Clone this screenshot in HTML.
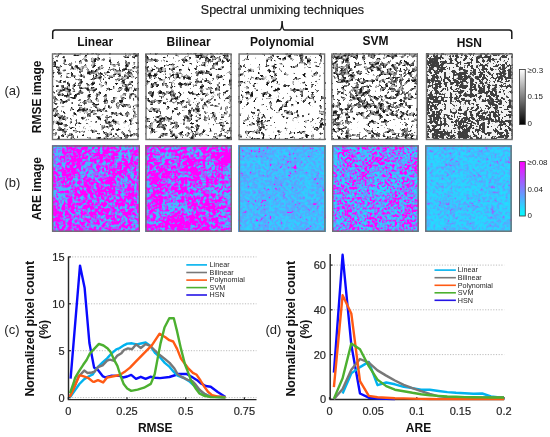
<!DOCTYPE html>
<html><head><meta charset="utf-8"><title>Spectral unmixing techniques</title>
<style>
html,body{margin:0;padding:0;background:#fff;}
body{width:550px;height:437px;overflow:hidden;}
svg{display:block;}
text{font-family:"Liberation Sans", Arial, Helvetica, sans-serif;}
</style></head><body>
<svg width="550" height="437" viewBox="0 0 550 437">
<defs>
<linearGradient id="gGray" x1="0" y1="0" x2="0" y2="1">
<stop offset="0" stop-color="#ffffff"/><stop offset="1" stop-color="#000000"/>
</linearGradient>
<linearGradient id="gCool" x1="0" y1="0" x2="0" y2="1">
<stop offset="0" stop-color="#ff00ff"/><stop offset="1" stop-color="#00ffff"/>
</linearGradient>
<filter id="r0" x="0" y="0" width="100%" height="100%" color-interpolation-filters="sRGB"><feTurbulence type="fractalNoise" baseFrequency="0.24" numOctaves="2" seed="11" result="ah0"/><feColorMatrix in="ah0" type="matrix" values="1 0 0 0 0  1 0 0 0 0  1 0 0 0 0  0 0 0 0 1" result="ah"/><feTurbulence type="fractalNoise" baseFrequency="0.06" numOctaves="2" seed="3" result="al0"/><feColorMatrix in="al0" type="matrix" values="1 0 0 0 0  1 0 0 0 0  1 0 0 0 0  0 0 0 0 1" result="al"/><feComposite in="ah" in2="al" operator="arithmetic" k1="0" k2="0.7" k3="0.3" k4="0" result="araw"/><feComponentTransfer in="araw" result="m"><feFuncR type="table" tableValues="1.000 1.000 1.000 1.000 1.000 1.000 1.000 1.000 1.000 1.000 1.000 1.000 1.000 1.000 1.000 1.000 1.000 1.000 1.000 1.000 1.000 1.000 1.000 1.000 1.000 1.000 1.000 1.000 1.000 1.000 1.000 1.000 1.000 1.000 1.000 1.000 1.000 1.000 1.000 1.000 1.000 1.000 1.000 1.000 1.000 1.000 0.740 0.230 0.000 0.000 0.000 0.000 0.000 0.000 0.000 0.000 0.000 0.000 0.000 0.000 0.000 0.000 0.000 0.000 0.000 0.000 0.000 0.000 0.000 0.000 0.000 0.000 0.000 0.000 0.000 0.000 0.000 0.000 0.000 0.000 0.000 0.000 0.000 0.000 0.000 0.000 0.000 0.000 0.000 0.000 0.000 0.000 0.000 0.000 0.000 0.000 0.000 0.000 0.000 0.000 0.000"/><feFuncG type="table" tableValues="1.000 1.000 1.000 1.000 1.000 1.000 1.000 1.000 1.000 1.000 1.000 1.000 1.000 1.000 1.000 1.000 1.000 1.000 1.000 1.000 1.000 1.000 1.000 1.000 1.000 1.000 1.000 1.000 1.000 1.000 1.000 1.000 1.000 1.000 1.000 1.000 1.000 1.000 1.000 1.000 1.000 1.000 1.000 1.000 1.000 1.000 0.740 0.230 0.000 0.000 0.000 0.000 0.000 0.000 0.000 0.000 0.000 0.000 0.000 0.000 0.000 0.000 0.000 0.000 0.000 0.000 0.000 0.000 0.000 0.000 0.000 0.000 0.000 0.000 0.000 0.000 0.000 0.000 0.000 0.000 0.000 0.000 0.000 0.000 0.000 0.000 0.000 0.000 0.000 0.000 0.000 0.000 0.000 0.000 0.000 0.000 0.000 0.000 0.000 0.000 0.000"/><feFuncB type="table" tableValues="1.000 1.000 1.000 1.000 1.000 1.000 1.000 1.000 1.000 1.000 1.000 1.000 1.000 1.000 1.000 1.000 1.000 1.000 1.000 1.000 1.000 1.000 1.000 1.000 1.000 1.000 1.000 1.000 1.000 1.000 1.000 1.000 1.000 1.000 1.000 1.000 1.000 1.000 1.000 1.000 1.000 1.000 1.000 1.000 1.000 1.000 0.740 0.230 0.000 0.000 0.000 0.000 0.000 0.000 0.000 0.000 0.000 0.000 0.000 0.000 0.000 0.000 0.000 0.000 0.000 0.000 0.000 0.000 0.000 0.000 0.000 0.000 0.000 0.000 0.000 0.000 0.000 0.000 0.000 0.000 0.000 0.000 0.000 0.000 0.000 0.000 0.000 0.000 0.000 0.000 0.000 0.000 0.000 0.000 0.000 0.000 0.000 0.000 0.000 0.000 0.000"/></feComponentTransfer><feTurbulence type="fractalNoise" baseFrequency="0.35" numOctaves="2" seed="5" result="bh0"/><feColorMatrix in="bh0" type="matrix" values="1 0 0 0 0  1 0 0 0 0  1 0 0 0 0  0 0 0 0 1" result="bh"/><feColorMatrix in="bh" type="matrix" values="1 0 0 0 0  0 1 0 0 0  0 0 1 0 0  0 0 0 0 1" result="braw"/><feComponentTransfer in="braw" result="d"><feFuncR type="table" tableValues="0.100 0.100 0.100 0.100 0.100 0.100 0.100 0.100 0.100 0.100 0.100 0.100 0.100 0.100 0.100 0.100 0.100 0.100 0.100 0.100 0.100 0.100 0.100 0.100 0.100 0.100 0.100 0.100 0.100 0.100 0.100 0.100 0.100 0.100 0.100 0.113 0.135 0.157 0.179 0.202 0.224 0.246 0.268 0.291 0.313 0.335 0.357 0.380 0.402 0.424 0.447 0.469 0.491 0.513 0.536 0.558 0.580 0.602 0.625 0.647 0.669 0.691 0.714 0.736 0.758 0.780 0.800 0.800 0.800 0.800 0.800 0.800 0.800 0.800 0.800 0.800 0.800 0.800 0.800 0.800 0.800 0.800 0.800 0.800 0.800 0.800 0.800 0.800 0.800 0.800 0.800 0.800 0.800 0.800 0.800 0.800 0.800 0.800 0.800 0.800 0.800"/><feFuncG type="table" tableValues="0.100 0.100 0.100 0.100 0.100 0.100 0.100 0.100 0.100 0.100 0.100 0.100 0.100 0.100 0.100 0.100 0.100 0.100 0.100 0.100 0.100 0.100 0.100 0.100 0.100 0.100 0.100 0.100 0.100 0.100 0.100 0.100 0.100 0.100 0.100 0.113 0.135 0.157 0.179 0.202 0.224 0.246 0.268 0.291 0.313 0.335 0.357 0.380 0.402 0.424 0.447 0.469 0.491 0.513 0.536 0.558 0.580 0.602 0.625 0.647 0.669 0.691 0.714 0.736 0.758 0.780 0.800 0.800 0.800 0.800 0.800 0.800 0.800 0.800 0.800 0.800 0.800 0.800 0.800 0.800 0.800 0.800 0.800 0.800 0.800 0.800 0.800 0.800 0.800 0.800 0.800 0.800 0.800 0.800 0.800 0.800 0.800 0.800 0.800 0.800 0.800"/><feFuncB type="table" tableValues="0.100 0.100 0.100 0.100 0.100 0.100 0.100 0.100 0.100 0.100 0.100 0.100 0.100 0.100 0.100 0.100 0.100 0.100 0.100 0.100 0.100 0.100 0.100 0.100 0.100 0.100 0.100 0.100 0.100 0.100 0.100 0.100 0.100 0.100 0.100 0.113 0.135 0.157 0.179 0.202 0.224 0.246 0.268 0.291 0.313 0.335 0.357 0.380 0.402 0.424 0.447 0.469 0.491 0.513 0.536 0.558 0.580 0.602 0.625 0.647 0.669 0.691 0.714 0.736 0.758 0.780 0.800 0.800 0.800 0.800 0.800 0.800 0.800 0.800 0.800 0.800 0.800 0.800 0.800 0.800 0.800 0.800 0.800 0.800 0.800 0.800 0.800 0.800 0.800 0.800 0.800 0.800 0.800 0.800 0.800 0.800 0.800 0.800 0.800 0.800 0.800"/></feComponentTransfer><feComposite in="m" in2="d" operator="arithmetic" k1="1" k2="-1" k3="0" k4="1"/></filter>
<filter id="r1" x="0" y="0" width="100%" height="100%" color-interpolation-filters="sRGB"><feTurbulence type="fractalNoise" baseFrequency="0.24" numOctaves="2" seed="11" result="ah0"/><feColorMatrix in="ah0" type="matrix" values="1 0 0 0 0  1 0 0 0 0  1 0 0 0 0  0 0 0 0 1" result="ah"/><feTurbulence type="fractalNoise" baseFrequency="0.06" numOctaves="2" seed="3" result="al0"/><feColorMatrix in="al0" type="matrix" values="1 0 0 0 0  1 0 0 0 0  1 0 0 0 0  0 0 0 0 1" result="al"/><feComposite in="ah" in2="al" operator="arithmetic" k1="0" k2="0.7" k3="0.3" k4="0" result="araw"/><feComponentTransfer in="araw" result="m"><feFuncR type="table" tableValues="1.000 1.000 1.000 1.000 1.000 1.000 1.000 1.000 1.000 1.000 1.000 1.000 1.000 1.000 1.000 1.000 1.000 1.000 1.000 1.000 1.000 1.000 1.000 1.000 1.000 1.000 1.000 1.000 1.000 1.000 1.000 1.000 1.000 1.000 1.000 1.000 1.000 1.000 1.000 1.000 1.000 1.000 1.000 1.000 1.000 1.000 0.925 0.288 0.000 0.000 0.000 0.000 0.000 0.000 0.000 0.000 0.000 0.000 0.000 0.000 0.000 0.000 0.000 0.000 0.000 0.000 0.000 0.000 0.000 0.000 0.000 0.000 0.000 0.000 0.000 0.000 0.000 0.000 0.000 0.000 0.000 0.000 0.000 0.000 0.000 0.000 0.000 0.000 0.000 0.000 0.000 0.000 0.000 0.000 0.000 0.000 0.000 0.000 0.000 0.000 0.000"/><feFuncG type="table" tableValues="1.000 1.000 1.000 1.000 1.000 1.000 1.000 1.000 1.000 1.000 1.000 1.000 1.000 1.000 1.000 1.000 1.000 1.000 1.000 1.000 1.000 1.000 1.000 1.000 1.000 1.000 1.000 1.000 1.000 1.000 1.000 1.000 1.000 1.000 1.000 1.000 1.000 1.000 1.000 1.000 1.000 1.000 1.000 1.000 1.000 1.000 0.925 0.288 0.000 0.000 0.000 0.000 0.000 0.000 0.000 0.000 0.000 0.000 0.000 0.000 0.000 0.000 0.000 0.000 0.000 0.000 0.000 0.000 0.000 0.000 0.000 0.000 0.000 0.000 0.000 0.000 0.000 0.000 0.000 0.000 0.000 0.000 0.000 0.000 0.000 0.000 0.000 0.000 0.000 0.000 0.000 0.000 0.000 0.000 0.000 0.000 0.000 0.000 0.000 0.000 0.000"/><feFuncB type="table" tableValues="1.000 1.000 1.000 1.000 1.000 1.000 1.000 1.000 1.000 1.000 1.000 1.000 1.000 1.000 1.000 1.000 1.000 1.000 1.000 1.000 1.000 1.000 1.000 1.000 1.000 1.000 1.000 1.000 1.000 1.000 1.000 1.000 1.000 1.000 1.000 1.000 1.000 1.000 1.000 1.000 1.000 1.000 1.000 1.000 1.000 1.000 0.925 0.288 0.000 0.000 0.000 0.000 0.000 0.000 0.000 0.000 0.000 0.000 0.000 0.000 0.000 0.000 0.000 0.000 0.000 0.000 0.000 0.000 0.000 0.000 0.000 0.000 0.000 0.000 0.000 0.000 0.000 0.000 0.000 0.000 0.000 0.000 0.000 0.000 0.000 0.000 0.000 0.000 0.000 0.000 0.000 0.000 0.000 0.000 0.000 0.000 0.000 0.000 0.000 0.000 0.000"/></feComponentTransfer><feTurbulence type="fractalNoise" baseFrequency="0.35" numOctaves="2" seed="5" result="bh0"/><feColorMatrix in="bh0" type="matrix" values="1 0 0 0 0  1 0 0 0 0  1 0 0 0 0  0 0 0 0 1" result="bh"/><feColorMatrix in="bh" type="matrix" values="1 0 0 0 0  0 1 0 0 0  0 0 1 0 0  0 0 0 0 1" result="braw"/><feComponentTransfer in="braw" result="d"><feFuncR type="table" tableValues="0.100 0.100 0.100 0.100 0.100 0.100 0.100 0.100 0.100 0.100 0.100 0.100 0.100 0.100 0.100 0.100 0.100 0.100 0.100 0.100 0.100 0.100 0.100 0.100 0.100 0.100 0.100 0.100 0.100 0.100 0.100 0.100 0.100 0.100 0.100 0.113 0.135 0.157 0.179 0.202 0.224 0.246 0.268 0.291 0.313 0.335 0.357 0.380 0.402 0.424 0.447 0.469 0.491 0.513 0.536 0.558 0.580 0.602 0.625 0.647 0.669 0.691 0.714 0.736 0.758 0.780 0.800 0.800 0.800 0.800 0.800 0.800 0.800 0.800 0.800 0.800 0.800 0.800 0.800 0.800 0.800 0.800 0.800 0.800 0.800 0.800 0.800 0.800 0.800 0.800 0.800 0.800 0.800 0.800 0.800 0.800 0.800 0.800 0.800 0.800 0.800"/><feFuncG type="table" tableValues="0.100 0.100 0.100 0.100 0.100 0.100 0.100 0.100 0.100 0.100 0.100 0.100 0.100 0.100 0.100 0.100 0.100 0.100 0.100 0.100 0.100 0.100 0.100 0.100 0.100 0.100 0.100 0.100 0.100 0.100 0.100 0.100 0.100 0.100 0.100 0.113 0.135 0.157 0.179 0.202 0.224 0.246 0.268 0.291 0.313 0.335 0.357 0.380 0.402 0.424 0.447 0.469 0.491 0.513 0.536 0.558 0.580 0.602 0.625 0.647 0.669 0.691 0.714 0.736 0.758 0.780 0.800 0.800 0.800 0.800 0.800 0.800 0.800 0.800 0.800 0.800 0.800 0.800 0.800 0.800 0.800 0.800 0.800 0.800 0.800 0.800 0.800 0.800 0.800 0.800 0.800 0.800 0.800 0.800 0.800 0.800 0.800 0.800 0.800 0.800 0.800"/><feFuncB type="table" tableValues="0.100 0.100 0.100 0.100 0.100 0.100 0.100 0.100 0.100 0.100 0.100 0.100 0.100 0.100 0.100 0.100 0.100 0.100 0.100 0.100 0.100 0.100 0.100 0.100 0.100 0.100 0.100 0.100 0.100 0.100 0.100 0.100 0.100 0.100 0.100 0.113 0.135 0.157 0.179 0.202 0.224 0.246 0.268 0.291 0.313 0.335 0.357 0.380 0.402 0.424 0.447 0.469 0.491 0.513 0.536 0.558 0.580 0.602 0.625 0.647 0.669 0.691 0.714 0.736 0.758 0.780 0.800 0.800 0.800 0.800 0.800 0.800 0.800 0.800 0.800 0.800 0.800 0.800 0.800 0.800 0.800 0.800 0.800 0.800 0.800 0.800 0.800 0.800 0.800 0.800 0.800 0.800 0.800 0.800 0.800 0.800 0.800 0.800 0.800 0.800 0.800"/></feComponentTransfer><feComposite in="m" in2="d" operator="arithmetic" k1="1" k2="-1" k3="0" k4="1"/></filter>
<filter id="r2" x="0" y="0" width="100%" height="100%" color-interpolation-filters="sRGB"><feTurbulence type="fractalNoise" baseFrequency="0.26" numOctaves="2" seed="11" result="ah0"/><feColorMatrix in="ah0" type="matrix" values="1 0 0 0 0  1 0 0 0 0  1 0 0 0 0  0 0 0 0 1" result="ah"/><feTurbulence type="fractalNoise" baseFrequency="0.06" numOctaves="2" seed="3" result="al0"/><feColorMatrix in="al0" type="matrix" values="1 0 0 0 0  1 0 0 0 0  1 0 0 0 0  0 0 0 0 1" result="al"/><feComposite in="ah" in2="al" operator="arithmetic" k1="0" k2="0.7" k3="0.3" k4="0" result="araw"/><feComponentTransfer in="araw" result="m"><feFuncR type="table" tableValues="1.000 1.000 1.000 1.000 1.000 1.000 1.000 1.000 1.000 1.000 1.000 1.000 1.000 1.000 1.000 1.000 1.000 1.000 1.000 1.000 1.000 1.000 1.000 1.000 1.000 1.000 1.000 1.000 1.000 1.000 1.000 1.000 1.000 1.000 1.000 1.000 1.000 1.000 1.000 1.000 1.000 1.000 0.650 0.225 0.000 0.000 0.000 0.000 0.000 0.000 0.000 0.000 0.000 0.000 0.000 0.000 0.000 0.000 0.000 0.000 0.000 0.000 0.000 0.000 0.000 0.000 0.000 0.000 0.000 0.000 0.000 0.000 0.000 0.000 0.000 0.000 0.000 0.000 0.000 0.000 0.000 0.000 0.000 0.000 0.000 0.000 0.000 0.000 0.000 0.000 0.000 0.000 0.000 0.000 0.000 0.000 0.000 0.000 0.000 0.000 0.000"/><feFuncG type="table" tableValues="1.000 1.000 1.000 1.000 1.000 1.000 1.000 1.000 1.000 1.000 1.000 1.000 1.000 1.000 1.000 1.000 1.000 1.000 1.000 1.000 1.000 1.000 1.000 1.000 1.000 1.000 1.000 1.000 1.000 1.000 1.000 1.000 1.000 1.000 1.000 1.000 1.000 1.000 1.000 1.000 1.000 1.000 0.650 0.225 0.000 0.000 0.000 0.000 0.000 0.000 0.000 0.000 0.000 0.000 0.000 0.000 0.000 0.000 0.000 0.000 0.000 0.000 0.000 0.000 0.000 0.000 0.000 0.000 0.000 0.000 0.000 0.000 0.000 0.000 0.000 0.000 0.000 0.000 0.000 0.000 0.000 0.000 0.000 0.000 0.000 0.000 0.000 0.000 0.000 0.000 0.000 0.000 0.000 0.000 0.000 0.000 0.000 0.000 0.000 0.000 0.000"/><feFuncB type="table" tableValues="1.000 1.000 1.000 1.000 1.000 1.000 1.000 1.000 1.000 1.000 1.000 1.000 1.000 1.000 1.000 1.000 1.000 1.000 1.000 1.000 1.000 1.000 1.000 1.000 1.000 1.000 1.000 1.000 1.000 1.000 1.000 1.000 1.000 1.000 1.000 1.000 1.000 1.000 1.000 1.000 1.000 1.000 0.650 0.225 0.000 0.000 0.000 0.000 0.000 0.000 0.000 0.000 0.000 0.000 0.000 0.000 0.000 0.000 0.000 0.000 0.000 0.000 0.000 0.000 0.000 0.000 0.000 0.000 0.000 0.000 0.000 0.000 0.000 0.000 0.000 0.000 0.000 0.000 0.000 0.000 0.000 0.000 0.000 0.000 0.000 0.000 0.000 0.000 0.000 0.000 0.000 0.000 0.000 0.000 0.000 0.000 0.000 0.000 0.000 0.000 0.000"/></feComponentTransfer><feTurbulence type="fractalNoise" baseFrequency="0.35" numOctaves="2" seed="5" result="bh0"/><feColorMatrix in="bh0" type="matrix" values="1 0 0 0 0  1 0 0 0 0  1 0 0 0 0  0 0 0 0 1" result="bh"/><feColorMatrix in="bh" type="matrix" values="1 0 0 0 0  0 1 0 0 0  0 0 1 0 0  0 0 0 0 1" result="braw"/><feComponentTransfer in="braw" result="d"><feFuncR type="table" tableValues="0.080 0.080 0.080 0.080 0.080 0.080 0.080 0.080 0.080 0.080 0.080 0.080 0.080 0.080 0.080 0.080 0.080 0.080 0.080 0.080 0.080 0.080 0.080 0.080 0.080 0.080 0.080 0.080 0.080 0.080 0.080 0.080 0.080 0.080 0.080 0.093 0.116 0.139 0.162 0.185 0.207 0.230 0.253 0.276 0.299 0.322 0.345 0.368 0.391 0.414 0.436 0.459 0.482 0.505 0.528 0.551 0.574 0.597 0.620 0.642 0.665 0.688 0.711 0.734 0.757 0.780 0.800 0.800 0.800 0.800 0.800 0.800 0.800 0.800 0.800 0.800 0.800 0.800 0.800 0.800 0.800 0.800 0.800 0.800 0.800 0.800 0.800 0.800 0.800 0.800 0.800 0.800 0.800 0.800 0.800 0.800 0.800 0.800 0.800 0.800 0.800"/><feFuncG type="table" tableValues="0.080 0.080 0.080 0.080 0.080 0.080 0.080 0.080 0.080 0.080 0.080 0.080 0.080 0.080 0.080 0.080 0.080 0.080 0.080 0.080 0.080 0.080 0.080 0.080 0.080 0.080 0.080 0.080 0.080 0.080 0.080 0.080 0.080 0.080 0.080 0.093 0.116 0.139 0.162 0.185 0.207 0.230 0.253 0.276 0.299 0.322 0.345 0.368 0.391 0.414 0.436 0.459 0.482 0.505 0.528 0.551 0.574 0.597 0.620 0.642 0.665 0.688 0.711 0.734 0.757 0.780 0.800 0.800 0.800 0.800 0.800 0.800 0.800 0.800 0.800 0.800 0.800 0.800 0.800 0.800 0.800 0.800 0.800 0.800 0.800 0.800 0.800 0.800 0.800 0.800 0.800 0.800 0.800 0.800 0.800 0.800 0.800 0.800 0.800 0.800 0.800"/><feFuncB type="table" tableValues="0.080 0.080 0.080 0.080 0.080 0.080 0.080 0.080 0.080 0.080 0.080 0.080 0.080 0.080 0.080 0.080 0.080 0.080 0.080 0.080 0.080 0.080 0.080 0.080 0.080 0.080 0.080 0.080 0.080 0.080 0.080 0.080 0.080 0.080 0.080 0.093 0.116 0.139 0.162 0.185 0.207 0.230 0.253 0.276 0.299 0.322 0.345 0.368 0.391 0.414 0.436 0.459 0.482 0.505 0.528 0.551 0.574 0.597 0.620 0.642 0.665 0.688 0.711 0.734 0.757 0.780 0.800 0.800 0.800 0.800 0.800 0.800 0.800 0.800 0.800 0.800 0.800 0.800 0.800 0.800 0.800 0.800 0.800 0.800 0.800 0.800 0.800 0.800 0.800 0.800 0.800 0.800 0.800 0.800 0.800 0.800 0.800 0.800 0.800 0.800 0.800"/></feComponentTransfer><feComposite in="m" in2="d" operator="arithmetic" k1="1" k2="-1" k3="0" k4="1"/></filter>
<filter id="r3" x="0" y="0" width="100%" height="100%" color-interpolation-filters="sRGB"><feTurbulence type="fractalNoise" baseFrequency="0.24" numOctaves="2" seed="11" result="ah0"/><feColorMatrix in="ah0" type="matrix" values="1 0 0 0 0  1 0 0 0 0  1 0 0 0 0  0 0 0 0 1" result="ah"/><feTurbulence type="fractalNoise" baseFrequency="0.06" numOctaves="2" seed="3" result="al0"/><feColorMatrix in="al0" type="matrix" values="1 0 0 0 0  1 0 0 0 0  1 0 0 0 0  0 0 0 0 1" result="al"/><feComposite in="ah" in2="al" operator="arithmetic" k1="0" k2="0.7" k3="0.3" k4="0" result="araw"/><feComponentTransfer in="araw" result="m"><feFuncR type="table" tableValues="1.000 1.000 1.000 1.000 1.000 1.000 1.000 1.000 1.000 1.000 1.000 1.000 1.000 1.000 1.000 1.000 1.000 1.000 1.000 1.000 1.000 1.000 1.000 1.000 1.000 1.000 1.000 1.000 1.000 1.000 1.000 1.000 1.000 1.000 1.000 1.000 1.000 1.000 1.000 1.000 1.000 1.000 1.000 1.000 1.000 1.000 1.000 1.000 0.900 0.263 0.000 0.000 0.000 0.000 0.000 0.000 0.000 0.000 0.000 0.000 0.000 0.000 0.000 0.000 0.000 0.000 0.000 0.000 0.000 0.000 0.000 0.000 0.000 0.000 0.000 0.000 0.000 0.000 0.000 0.000 0.000 0.000 0.000 0.000 0.000 0.000 0.000 0.000 0.000 0.000 0.000 0.000 0.000 0.000 0.000 0.000 0.000 0.000 0.000 0.000 0.000"/><feFuncG type="table" tableValues="1.000 1.000 1.000 1.000 1.000 1.000 1.000 1.000 1.000 1.000 1.000 1.000 1.000 1.000 1.000 1.000 1.000 1.000 1.000 1.000 1.000 1.000 1.000 1.000 1.000 1.000 1.000 1.000 1.000 1.000 1.000 1.000 1.000 1.000 1.000 1.000 1.000 1.000 1.000 1.000 1.000 1.000 1.000 1.000 1.000 1.000 1.000 1.000 0.900 0.263 0.000 0.000 0.000 0.000 0.000 0.000 0.000 0.000 0.000 0.000 0.000 0.000 0.000 0.000 0.000 0.000 0.000 0.000 0.000 0.000 0.000 0.000 0.000 0.000 0.000 0.000 0.000 0.000 0.000 0.000 0.000 0.000 0.000 0.000 0.000 0.000 0.000 0.000 0.000 0.000 0.000 0.000 0.000 0.000 0.000 0.000 0.000 0.000 0.000 0.000 0.000"/><feFuncB type="table" tableValues="1.000 1.000 1.000 1.000 1.000 1.000 1.000 1.000 1.000 1.000 1.000 1.000 1.000 1.000 1.000 1.000 1.000 1.000 1.000 1.000 1.000 1.000 1.000 1.000 1.000 1.000 1.000 1.000 1.000 1.000 1.000 1.000 1.000 1.000 1.000 1.000 1.000 1.000 1.000 1.000 1.000 1.000 1.000 1.000 1.000 1.000 1.000 1.000 0.900 0.263 0.000 0.000 0.000 0.000 0.000 0.000 0.000 0.000 0.000 0.000 0.000 0.000 0.000 0.000 0.000 0.000 0.000 0.000 0.000 0.000 0.000 0.000 0.000 0.000 0.000 0.000 0.000 0.000 0.000 0.000 0.000 0.000 0.000 0.000 0.000 0.000 0.000 0.000 0.000 0.000 0.000 0.000 0.000 0.000 0.000 0.000 0.000 0.000 0.000 0.000 0.000"/></feComponentTransfer><feTurbulence type="fractalNoise" baseFrequency="0.35" numOctaves="2" seed="5" result="bh0"/><feColorMatrix in="bh0" type="matrix" values="1 0 0 0 0  1 0 0 0 0  1 0 0 0 0  0 0 0 0 1" result="bh"/><feColorMatrix in="bh" type="matrix" values="1 0 0 0 0  0 1 0 0 0  0 0 1 0 0  0 0 0 0 1" result="braw"/><feComponentTransfer in="braw" result="d"><feFuncR type="table" tableValues="0.100 0.100 0.100 0.100 0.100 0.100 0.100 0.100 0.100 0.100 0.100 0.100 0.100 0.100 0.100 0.100 0.100 0.100 0.100 0.100 0.100 0.100 0.100 0.100 0.100 0.100 0.100 0.100 0.100 0.100 0.100 0.100 0.100 0.100 0.100 0.112 0.132 0.153 0.174 0.194 0.215 0.236 0.256 0.277 0.298 0.318 0.339 0.360 0.380 0.401 0.422 0.442 0.463 0.484 0.504 0.525 0.546 0.566 0.587 0.608 0.628 0.649 0.670 0.690 0.711 0.732 0.750 0.750 0.750 0.750 0.750 0.750 0.750 0.750 0.750 0.750 0.750 0.750 0.750 0.750 0.750 0.750 0.750 0.750 0.750 0.750 0.750 0.750 0.750 0.750 0.750 0.750 0.750 0.750 0.750 0.750 0.750 0.750 0.750 0.750 0.750"/><feFuncG type="table" tableValues="0.100 0.100 0.100 0.100 0.100 0.100 0.100 0.100 0.100 0.100 0.100 0.100 0.100 0.100 0.100 0.100 0.100 0.100 0.100 0.100 0.100 0.100 0.100 0.100 0.100 0.100 0.100 0.100 0.100 0.100 0.100 0.100 0.100 0.100 0.100 0.112 0.132 0.153 0.174 0.194 0.215 0.236 0.256 0.277 0.298 0.318 0.339 0.360 0.380 0.401 0.422 0.442 0.463 0.484 0.504 0.525 0.546 0.566 0.587 0.608 0.628 0.649 0.670 0.690 0.711 0.732 0.750 0.750 0.750 0.750 0.750 0.750 0.750 0.750 0.750 0.750 0.750 0.750 0.750 0.750 0.750 0.750 0.750 0.750 0.750 0.750 0.750 0.750 0.750 0.750 0.750 0.750 0.750 0.750 0.750 0.750 0.750 0.750 0.750 0.750 0.750"/><feFuncB type="table" tableValues="0.100 0.100 0.100 0.100 0.100 0.100 0.100 0.100 0.100 0.100 0.100 0.100 0.100 0.100 0.100 0.100 0.100 0.100 0.100 0.100 0.100 0.100 0.100 0.100 0.100 0.100 0.100 0.100 0.100 0.100 0.100 0.100 0.100 0.100 0.100 0.112 0.132 0.153 0.174 0.194 0.215 0.236 0.256 0.277 0.298 0.318 0.339 0.360 0.380 0.401 0.422 0.442 0.463 0.484 0.504 0.525 0.546 0.566 0.587 0.608 0.628 0.649 0.670 0.690 0.711 0.732 0.750 0.750 0.750 0.750 0.750 0.750 0.750 0.750 0.750 0.750 0.750 0.750 0.750 0.750 0.750 0.750 0.750 0.750 0.750 0.750 0.750 0.750 0.750 0.750 0.750 0.750 0.750 0.750 0.750 0.750 0.750 0.750 0.750 0.750 0.750"/></feComponentTransfer><feComposite in="m" in2="d" operator="arithmetic" k1="1" k2="-1" k3="0" k4="1"/></filter>
<filter id="r4" x="0" y="0" width="100%" height="100%" color-interpolation-filters="sRGB"><feTurbulence type="fractalNoise" baseFrequency="0.34" numOctaves="2" seed="29" result="ah0"/><feColorMatrix in="ah0" type="matrix" values="1 0 0 0 0  1 0 0 0 0  1 0 0 0 0  0 0 0 0 1" result="ah"/><feTurbulence type="fractalNoise" baseFrequency="0.07" numOctaves="2" seed="8" result="al0"/><feColorMatrix in="al0" type="matrix" values="1 0 0 0 0  1 0 0 0 0  1 0 0 0 0  0 0 0 0 1" result="al"/><feComposite in="ah" in2="al" operator="arithmetic" k1="0" k2="0.7" k3="0.3" k4="0" result="araw"/><feComponentTransfer in="araw" ><feFuncR type="table" tableValues="0.250 0.250 0.250 0.250 0.250 0.250 0.250 0.250 0.250 0.250 0.250 0.250 0.250 0.250 0.250 0.250 0.250 0.250 0.250 0.250 0.250 0.250 0.250 0.250 0.250 0.250 0.250 0.250 0.250 0.250 0.250 0.250 0.250 0.250 0.250 0.250 0.250 0.250 0.250 0.250 0.250 0.250 0.250 0.250 0.250 0.250 0.250 0.250 0.250 0.361 0.690 0.960 0.960 0.960 0.960 0.960 0.960 0.960 0.960 0.960 0.960 0.960 0.960 0.960 0.960 0.960 0.960 0.960 0.960 0.960 0.960 0.960 0.960 0.960 0.960 0.960 0.960 0.960 0.960 0.960 0.960 0.960 0.960 0.960 0.960 0.960 0.960 0.960 0.960 0.960 0.960 0.960 0.960 0.960 0.960 0.960 0.960 0.960 0.960 0.960 0.960"/><feFuncG type="table" tableValues="0.250 0.250 0.250 0.250 0.250 0.250 0.250 0.250 0.250 0.250 0.250 0.250 0.250 0.250 0.250 0.250 0.250 0.250 0.250 0.250 0.250 0.250 0.250 0.250 0.250 0.250 0.250 0.250 0.250 0.250 0.250 0.250 0.250 0.250 0.250 0.250 0.250 0.250 0.250 0.250 0.250 0.250 0.250 0.250 0.250 0.250 0.250 0.250 0.250 0.361 0.690 0.960 0.960 0.960 0.960 0.960 0.960 0.960 0.960 0.960 0.960 0.960 0.960 0.960 0.960 0.960 0.960 0.960 0.960 0.960 0.960 0.960 0.960 0.960 0.960 0.960 0.960 0.960 0.960 0.960 0.960 0.960 0.960 0.960 0.960 0.960 0.960 0.960 0.960 0.960 0.960 0.960 0.960 0.960 0.960 0.960 0.960 0.960 0.960 0.960 0.960"/><feFuncB type="table" tableValues="0.250 0.250 0.250 0.250 0.250 0.250 0.250 0.250 0.250 0.250 0.250 0.250 0.250 0.250 0.250 0.250 0.250 0.250 0.250 0.250 0.250 0.250 0.250 0.250 0.250 0.250 0.250 0.250 0.250 0.250 0.250 0.250 0.250 0.250 0.250 0.250 0.250 0.250 0.250 0.250 0.250 0.250 0.250 0.250 0.250 0.250 0.250 0.250 0.250 0.361 0.690 0.960 0.960 0.960 0.960 0.960 0.960 0.960 0.960 0.960 0.960 0.960 0.960 0.960 0.960 0.960 0.960 0.960 0.960 0.960 0.960 0.960 0.960 0.960 0.960 0.960 0.960 0.960 0.960 0.960 0.960 0.960 0.960 0.960 0.960 0.960 0.960 0.960 0.960 0.960 0.960 0.960 0.960 0.960 0.960 0.960 0.960 0.960 0.960 0.960 0.960"/></feComponentTransfer></filter>
<filter id="e0" x="0" y="0" width="100%" height="100%" color-interpolation-filters="sRGB"><feTurbulence type="fractalNoise" baseFrequency="0.32" numOctaves="2" seed="41" result="ah0"/><feColorMatrix in="ah0" type="matrix" values="1 0 0 0 0  1 0 0 0 0  1 0 0 0 0  0 0 0 0 1" result="ah"/><feTurbulence type="fractalNoise" baseFrequency="0.06" numOctaves="2" seed="9" result="al0"/><feColorMatrix in="al0" type="matrix" values="1 0 0 0 0  1 0 0 0 0  1 0 0 0 0  0 0 0 0 1" result="al"/><feComposite in="ah" in2="al" operator="arithmetic" k1="0" k2="0.65" k3="0.35" k4="0" result="araw"/><feComponentTransfer in="araw"><feFuncR type="table" tableValues="0.280 0.280 0.280 0.280 0.280 0.280 0.280 0.280 0.280 0.280 0.280 0.280 0.280 0.280 0.280 0.280 0.280 0.280 0.280 0.280 0.280 0.280 0.280 0.280 0.280 0.280 0.280 0.280 0.280 0.280 0.280 0.280 0.280 0.280 0.280 0.280 0.280 0.280 0.280 0.280 0.280 0.280 0.280 0.354 0.620 0.620 0.620 0.620 0.620 0.620 0.620 0.620 0.823 1.000 1.000 1.000 1.000 1.000 1.000 1.000 1.000 1.000 1.000 1.000 1.000 1.000 1.000 1.000 1.000 1.000 1.000 1.000 1.000 1.000 1.000 1.000 1.000 1.000 1.000 1.000 1.000 1.000 1.000 1.000 1.000 1.000 1.000 1.000 1.000 1.000 1.000 1.000 1.000 1.000 1.000 1.000 1.000 1.000 1.000 1.000 1.000"/><feFuncG type="table" tableValues="0.720 0.720 0.720 0.720 0.720 0.720 0.720 0.720 0.720 0.720 0.720 0.720 0.720 0.720 0.720 0.720 0.720 0.720 0.720 0.720 0.720 0.720 0.720 0.720 0.720 0.720 0.720 0.720 0.720 0.720 0.720 0.720 0.720 0.720 0.720 0.720 0.720 0.720 0.720 0.720 0.720 0.720 0.720 0.646 0.380 0.380 0.380 0.380 0.380 0.380 0.380 0.380 0.177 0.000 0.000 0.000 0.000 0.000 0.000 0.000 0.000 0.000 0.000 0.000 0.000 0.000 0.000 0.000 0.000 0.000 0.000 0.000 0.000 0.000 0.000 0.000 0.000 0.000 0.000 0.000 0.000 0.000 0.000 0.000 0.000 0.000 0.000 0.000 0.000 0.000 0.000 0.000 0.000 0.000 0.000 0.000 0.000 0.000 0.000 0.000 0.000"/><feFuncB type="linear" slope="0" intercept="1"/></feComponentTransfer></filter>
<filter id="e1" x="0" y="0" width="100%" height="100%" color-interpolation-filters="sRGB"><feTurbulence type="fractalNoise" baseFrequency="0.32" numOctaves="2" seed="42" result="ah0"/><feColorMatrix in="ah0" type="matrix" values="1 0 0 0 0  1 0 0 0 0  1 0 0 0 0  0 0 0 0 1" result="ah"/><feTurbulence type="fractalNoise" baseFrequency="0.06" numOctaves="2" seed="9" result="al0"/><feColorMatrix in="al0" type="matrix" values="1 0 0 0 0  1 0 0 0 0  1 0 0 0 0  0 0 0 0 1" result="al"/><feComposite in="ah" in2="al" operator="arithmetic" k1="0" k2="0.65" k3="0.35" k4="0" result="araw"/><feComponentTransfer in="araw"><feFuncR type="table" tableValues="0.280 0.280 0.280 0.280 0.280 0.280 0.280 0.280 0.280 0.280 0.280 0.280 0.280 0.280 0.280 0.280 0.280 0.280 0.280 0.280 0.280 0.280 0.280 0.280 0.280 0.280 0.280 0.280 0.280 0.280 0.280 0.280 0.280 0.280 0.280 0.280 0.280 0.280 0.280 0.280 0.280 0.280 0.280 0.420 0.620 0.620 0.620 0.620 0.620 0.620 0.620 0.620 0.924 1.000 1.000 1.000 1.000 1.000 1.000 1.000 1.000 1.000 1.000 1.000 1.000 1.000 1.000 1.000 1.000 1.000 1.000 1.000 1.000 1.000 1.000 1.000 1.000 1.000 1.000 1.000 1.000 1.000 1.000 1.000 1.000 1.000 1.000 1.000 1.000 1.000 1.000 1.000 1.000 1.000 1.000 1.000 1.000 1.000 1.000 1.000 1.000"/><feFuncG type="table" tableValues="0.720 0.720 0.720 0.720 0.720 0.720 0.720 0.720 0.720 0.720 0.720 0.720 0.720 0.720 0.720 0.720 0.720 0.720 0.720 0.720 0.720 0.720 0.720 0.720 0.720 0.720 0.720 0.720 0.720 0.720 0.720 0.720 0.720 0.720 0.720 0.720 0.720 0.720 0.720 0.720 0.720 0.720 0.720 0.580 0.380 0.380 0.380 0.380 0.380 0.380 0.380 0.380 0.076 0.000 0.000 0.000 0.000 0.000 0.000 0.000 0.000 0.000 0.000 0.000 0.000 0.000 0.000 0.000 0.000 0.000 0.000 0.000 0.000 0.000 0.000 0.000 0.000 0.000 0.000 0.000 0.000 0.000 0.000 0.000 0.000 0.000 0.000 0.000 0.000 0.000 0.000 0.000 0.000 0.000 0.000 0.000 0.000 0.000 0.000 0.000 0.000"/><feFuncB type="linear" slope="0" intercept="1"/></feComponentTransfer></filter>
<filter id="e2" x="0" y="0" width="100%" height="100%" color-interpolation-filters="sRGB"><feTurbulence type="fractalNoise" baseFrequency="0.36" numOctaves="2" seed="53" result="ah0"/><feColorMatrix in="ah0" type="matrix" values="1 0 0 0 0  1 0 0 0 0  1 0 0 0 0  0 0 0 0 1" result="ah"/><feTurbulence type="fractalNoise" baseFrequency="0.07" numOctaves="2" seed="10" result="al0"/><feColorMatrix in="al0" type="matrix" values="1 0 0 0 0  1 0 0 0 0  1 0 0 0 0  0 0 0 0 1" result="al"/><feComposite in="ah" in2="al" operator="arithmetic" k1="0" k2="0.7" k3="0.3" k4="0" result="araw"/><feComponentTransfer in="araw"><feFuncR type="table" tableValues="0.140 0.140 0.140 0.140 0.140 0.140 0.140 0.140 0.140 0.140 0.140 0.140 0.140 0.140 0.140 0.140 0.140 0.140 0.140 0.140 0.140 0.140 0.142 0.145 0.149 0.153 0.157 0.161 0.165 0.168 0.172 0.176 0.180 0.184 0.188 0.191 0.195 0.199 0.203 0.207 0.211 0.214 0.218 0.222 0.226 0.230 0.240 0.252 0.263 0.274 0.286 0.297 0.308 0.315 0.321 0.327 0.333 0.339 0.345 0.351 0.357 0.363 0.369 0.375 0.382 0.388 0.394 0.400 0.496 0.598 0.697 0.796 0.895 0.994 1.000 1.000 1.000 1.000 1.000 1.000 1.000 1.000 1.000 1.000 1.000 1.000 1.000 1.000 1.000 1.000 1.000 1.000 1.000 1.000 1.000 1.000 1.000 1.000 1.000 1.000 1.000"/><feFuncG type="table" tableValues="0.860 0.860 0.860 0.860 0.860 0.860 0.860 0.860 0.860 0.860 0.860 0.860 0.860 0.860 0.860 0.860 0.860 0.860 0.860 0.860 0.860 0.860 0.858 0.855 0.851 0.847 0.843 0.839 0.835 0.832 0.828 0.824 0.820 0.816 0.812 0.809 0.805 0.801 0.797 0.793 0.789 0.786 0.782 0.778 0.774 0.770 0.760 0.748 0.737 0.726 0.714 0.703 0.692 0.685 0.679 0.673 0.667 0.661 0.655 0.649 0.643 0.637 0.631 0.625 0.618 0.612 0.606 0.600 0.504 0.402 0.303 0.204 0.105 0.006 0.000 0.000 0.000 0.000 0.000 0.000 0.000 0.000 0.000 0.000 0.000 0.000 0.000 0.000 0.000 0.000 0.000 0.000 0.000 0.000 0.000 0.000 0.000 0.000 0.000 0.000 0.000"/><feFuncB type="linear" slope="0" intercept="1"/></feComponentTransfer></filter>
<filter id="e3" x="0" y="0" width="100%" height="100%" color-interpolation-filters="sRGB"><feTurbulence type="fractalNoise" baseFrequency="0.4" numOctaves="2" seed="47" result="ah0"/><feColorMatrix in="ah0" type="matrix" values="1 0 0 0 0  1 0 0 0 0  1 0 0 0 0  0 0 0 0 1" result="ah"/><feTurbulence type="fractalNoise" baseFrequency="0.07" numOctaves="2" seed="9" result="al0"/><feColorMatrix in="al0" type="matrix" values="1 0 0 0 0  1 0 0 0 0  1 0 0 0 0  0 0 0 0 1" result="al"/><feComposite in="ah" in2="al" operator="arithmetic" k1="0" k2="0.7" k3="0.3" k4="0" result="araw"/><feComponentTransfer in="araw"><feFuncR type="table" tableValues="0.160 0.160 0.160 0.160 0.160 0.160 0.160 0.160 0.160 0.160 0.160 0.160 0.160 0.160 0.160 0.160 0.160 0.160 0.160 0.160 0.160 0.160 0.160 0.160 0.160 0.160 0.160 0.160 0.160 0.160 0.160 0.160 0.160 0.160 0.160 0.160 0.160 0.160 0.181 0.240 0.300 0.300 0.300 0.300 0.300 0.300 0.300 0.300 0.324 0.477 0.480 0.480 0.480 0.534 0.620 0.620 0.620 0.620 0.800 1.000 1.000 1.000 1.000 1.000 1.000 1.000 1.000 1.000 1.000 1.000 1.000 1.000 1.000 1.000 1.000 1.000 1.000 1.000 1.000 1.000 1.000 1.000 1.000 1.000 1.000 1.000 1.000 1.000 1.000 1.000 1.000 1.000 1.000 1.000 1.000 1.000 1.000 1.000 1.000 1.000 1.000"/><feFuncG type="table" tableValues="0.840 0.840 0.840 0.840 0.840 0.840 0.840 0.840 0.840 0.840 0.840 0.840 0.840 0.840 0.840 0.840 0.840 0.840 0.840 0.840 0.840 0.840 0.840 0.840 0.840 0.840 0.840 0.840 0.840 0.840 0.840 0.840 0.840 0.840 0.840 0.840 0.840 0.840 0.819 0.760 0.700 0.700 0.700 0.700 0.700 0.700 0.700 0.700 0.676 0.523 0.520 0.520 0.520 0.466 0.380 0.380 0.380 0.380 0.200 0.000 0.000 0.000 0.000 0.000 0.000 0.000 0.000 0.000 0.000 0.000 0.000 0.000 0.000 0.000 0.000 0.000 0.000 0.000 0.000 0.000 0.000 0.000 0.000 0.000 0.000 0.000 0.000 0.000 0.000 0.000 0.000 0.000 0.000 0.000 0.000 0.000 0.000 0.000 0.000 0.000 0.000"/><feFuncB type="linear" slope="0" intercept="1"/></feComponentTransfer></filter>
<filter id="e4" x="0" y="0" width="100%" height="100%" color-interpolation-filters="sRGB"><feTurbulence type="fractalNoise" baseFrequency="0.36" numOctaves="2" seed="59" result="ah0"/><feColorMatrix in="ah0" type="matrix" values="1 0 0 0 0  1 0 0 0 0  1 0 0 0 0  0 0 0 0 1" result="ah"/><feTurbulence type="fractalNoise" baseFrequency="0.07" numOctaves="2" seed="11" result="al0"/><feColorMatrix in="al0" type="matrix" values="1 0 0 0 0  1 0 0 0 0  1 0 0 0 0  0 0 0 0 1" result="al"/><feComposite in="ah" in2="al" operator="arithmetic" k1="0" k2="0.7" k3="0.3" k4="0" result="araw"/><feComponentTransfer in="araw"><feFuncR type="table" tableValues="0.120 0.120 0.120 0.120 0.120 0.120 0.120 0.120 0.120 0.120 0.120 0.120 0.120 0.120 0.120 0.120 0.120 0.120 0.120 0.120 0.123 0.125 0.127 0.129 0.132 0.134 0.136 0.138 0.141 0.143 0.145 0.147 0.150 0.152 0.154 0.156 0.159 0.161 0.163 0.165 0.168 0.170 0.172 0.174 0.177 0.179 0.185 0.194 0.204 0.214 0.223 0.233 0.242 0.252 0.261 0.271 0.279 0.287 0.295 0.304 0.312 0.320 0.328 0.337 0.345 0.353 0.361 0.370 0.408 0.447 0.487 0.527 0.567 0.607 0.620 0.620 0.620 0.620 0.620 0.620 0.620 0.620 0.620 0.620 0.620 0.620 0.620 0.620 0.620 0.620 0.620 0.620 0.620 0.620 0.620 0.620 0.620 0.620 0.620 0.620 0.620"/><feFuncG type="table" tableValues="0.880 0.880 0.880 0.880 0.880 0.880 0.880 0.880 0.880 0.880 0.880 0.880 0.880 0.880 0.880 0.880 0.880 0.880 0.880 0.880 0.877 0.875 0.873 0.871 0.868 0.866 0.864 0.862 0.859 0.857 0.855 0.853 0.850 0.848 0.846 0.844 0.841 0.839 0.837 0.835 0.832 0.830 0.828 0.826 0.823 0.821 0.815 0.806 0.796 0.786 0.777 0.767 0.758 0.748 0.739 0.729 0.721 0.713 0.705 0.696 0.688 0.680 0.672 0.663 0.655 0.647 0.639 0.630 0.592 0.553 0.513 0.473 0.433 0.393 0.380 0.380 0.380 0.380 0.380 0.380 0.380 0.380 0.380 0.380 0.380 0.380 0.380 0.380 0.380 0.380 0.380 0.380 0.380 0.380 0.380 0.380 0.380 0.380 0.380 0.380 0.380"/><feFuncB type="linear" slope="0" intercept="1"/></feComponentTransfer></filter>
</defs>
<text x="200.8" y="14.4" font-size="12.5" fill="#1a1a1a" stroke="#1a1a1a" stroke-width="0.2">Spectral unmixing techniques</text>
<path d="M52.7,39 L52.7,32.5 Q52.7,30 55.2,30 L279.6,30 Q281.9,30 282.1,21 Q282.3,30 284.6,30 L509.3,30 Q511.8,30 511.8,32.5 L511.8,39" fill="none" stroke="#1a1a1a" stroke-width="1.5"/>
<text x="95.2" y="46.2" font-size="12" font-weight="bold" text-anchor="middle" fill="#111">Linear</text>
<rect x="52.0" y="53.5" width="86.5" height="86.5" filter="url(#r0)"/>
<rect x="52.5" y="54.0" width="85.5" height="85.5" fill="none" stroke="#707070" stroke-width="1.4"/>
<rect x="52.1" y="145.5" width="87.7" height="86.2" filter="url(#e0)"/>
<rect x="52.6" y="146.0" width="86.7" height="85.2" fill="none" stroke="#707070" stroke-width="1.4"/>
<text x="188.6" y="46.2" font-size="12" font-weight="bold" text-anchor="middle" fill="#111">Bilinear</text>
<rect x="145.5" y="53.5" width="86.1" height="86.5" filter="url(#r1)"/>
<rect x="146.0" y="54.0" width="85.1" height="85.5" fill="none" stroke="#707070" stroke-width="1.4"/>
<rect x="145.5" y="145.5" width="86.3" height="86.2" filter="url(#e1)"/>
<rect x="146.0" y="146.0" width="85.3" height="85.2" fill="none" stroke="#707070" stroke-width="1.4"/>
<text x="282.1" y="46.4" font-size="12" font-weight="bold" text-anchor="middle" fill="#111">Polynomial</text>
<rect x="238.6" y="53.5" width="86.5" height="86.5" filter="url(#r2)"/>
<rect x="239.1" y="54.0" width="85.5" height="85.5" fill="none" stroke="#707070" stroke-width="1.4"/>
<rect x="238.9" y="145.5" width="86.5" height="86.2" filter="url(#e2)"/>
<rect x="239.4" y="146.0" width="85.5" height="85.2" fill="none" stroke="#707070" stroke-width="1.4"/>
<text x="375.4" y="44.8" font-size="12" font-weight="bold" text-anchor="middle" fill="#111">SVM</text>
<rect x="331.3" y="53.5" width="86.5" height="86.5" filter="url(#r3)"/>
<rect x="331.8" y="54.0" width="85.5" height="85.5" fill="none" stroke="#707070" stroke-width="1.4"/>
<rect x="332.2" y="145.5" width="86.4" height="86.2" filter="url(#e3)"/>
<rect x="332.7" y="146.0" width="85.4" height="85.2" fill="none" stroke="#707070" stroke-width="1.4"/>
<text x="469.3" y="46.5" font-size="12" font-weight="bold" text-anchor="middle" fill="#111">HSN</text>
<rect x="426.0" y="53.5" width="86.6" height="86.5" filter="url(#r4)"/>
<rect x="426.5" y="54.0" width="85.6" height="85.5" fill="none" stroke="#707070" stroke-width="1.4"/>
<rect x="425.3" y="145.5" width="86.3" height="86.2" filter="url(#e4)"/>
<rect x="425.8" y="146.0" width="85.3" height="85.2" fill="none" stroke="#707070" stroke-width="1.4"/>
<text x="4.4" y="95.3" font-size="13" fill="#222">(a)</text>
<text x="4.4" y="187.2" font-size="13" fill="#222">(b)</text>
<text transform="translate(41.2,96.9) rotate(-90)" font-size="12" font-weight="bold" text-anchor="middle" fill="#111">RMSE image</text>
<text transform="translate(41.2,188.7) rotate(-90)" font-size="12" font-weight="bold" text-anchor="middle" fill="#111">ARE image</text>
<rect x="519.5" y="69.5" width="5.8" height="55.0" fill="url(#gGray)" stroke="#444" stroke-width="0.9"/>
<text x="527.6" y="72.8" font-size="8" fill="#222">&#8805;0.3</text>
<text x="527.4" y="99.3" font-size="8" fill="#222">0.15</text>
<text x="527.4" y="125.9" font-size="8" fill="#222">0</text>
<rect x="519.5" y="161.6" width="5.8" height="54.4" fill="url(#gCool)" stroke="#444" stroke-width="0.9"/>
<text x="527.6" y="165.0" font-size="8" fill="#222">&#8805;0.08</text>
<text x="527.4" y="191.7" font-size="8" fill="#222">0.04</text>
<text x="527.4" y="217.6" font-size="8" fill="#222">0</text>
<line x1="69.4" y1="397.6" x2="256.5" y2="397.6" stroke="#bcbcbc" stroke-width="1" stroke-dasharray="1.2,1.5"/>
<line x1="69.4" y1="350.7" x2="256.5" y2="350.7" stroke="#bcbcbc" stroke-width="1" stroke-dasharray="1.2,1.5"/>
<line x1="69.4" y1="303.8" x2="256.5" y2="303.8" stroke="#bcbcbc" stroke-width="1" stroke-dasharray="1.2,1.5"/>
<line x1="69.4" y1="256.9" x2="256.5" y2="256.9" stroke="#bcbcbc" stroke-width="1" stroke-dasharray="1.2,1.5"/>
<path d="M68.5,256.5 L68.5,399.6 L256.5,399.6" fill="none" stroke="#262626" stroke-width="1.45"/>
<line x1="68.3" y1="399.6" x2="68.3" y2="397.2" stroke="#262626" stroke-width="1.2"/>
<text x="68.3" y="415.0" font-size="11" text-anchor="middle" fill="#262626" stroke="#262626" stroke-width="0.2">0</text>
<line x1="127.0" y1="399.6" x2="127.0" y2="397.2" stroke="#262626" stroke-width="1.2"/>
<text x="127.0" y="415.0" font-size="11" text-anchor="middle" fill="#262626" stroke="#262626" stroke-width="0.2">0.25</text>
<line x1="185.7" y1="399.6" x2="185.7" y2="397.2" stroke="#262626" stroke-width="1.2"/>
<text x="185.7" y="415.0" font-size="11" text-anchor="middle" fill="#262626" stroke="#262626" stroke-width="0.2">0.5</text>
<line x1="244.4" y1="399.6" x2="244.4" y2="397.2" stroke="#262626" stroke-width="1.2"/>
<text x="244.4" y="415.0" font-size="11" text-anchor="middle" fill="#262626" stroke="#262626" stroke-width="0.2">0.75</text>
<line x1="68.5" y1="397.6" x2="70.9" y2="397.6" stroke="#262626" stroke-width="1.2"/>
<text x="64.6" y="402.0" font-size="11" text-anchor="end" fill="#262626" stroke="#262626" stroke-width="0.2">0</text>
<line x1="68.5" y1="350.7" x2="70.9" y2="350.7" stroke="#262626" stroke-width="1.2"/>
<text x="64.6" y="355.1" font-size="11" text-anchor="end" fill="#262626" stroke="#262626" stroke-width="0.2">5</text>
<line x1="68.5" y1="303.8" x2="70.9" y2="303.8" stroke="#262626" stroke-width="1.2"/>
<text x="64.6" y="308.2" font-size="11" text-anchor="end" fill="#262626" stroke="#262626" stroke-width="0.2">10</text>
<line x1="68.5" y1="256.9" x2="70.9" y2="256.9" stroke="#262626" stroke-width="1.2"/>
<text x="64.6" y="261.3" font-size="11" text-anchor="end" fill="#262626" stroke="#262626" stroke-width="0.2">15</text>
<polyline points="70.6,378.6 80.0,265.6 84.6,287.7 89.4,343.0 94.1,367.6 97.4,369.3 102.6,376.1 105.4,377.5 111.7,375.6 119.7,375.9 123.1,377.5 127.2,376.5 131.2,374.9 136.0,378.9 140.8,376.8 145.6,378.9 150.4,376.8 155.3,377.8 160.0,378.1 169.4,377.0 174.1,375.5 178.8,374.0 186.5,373.9 191.6,376.7 196.7,379.9 200.5,383.1 205.6,386.0 210.7,386.7 217.7,392.0 225.4,397.1" fill="none" stroke="#0a0aff" stroke-width="2.4" stroke-linejoin="round" stroke-linecap="butt"/>
<polyline points="69.8,397.5 74.6,390.8 79.4,384.0 84.2,379.2 89.0,376.3 92.8,374.4 96.9,368.1 102.6,362.4 107.1,358.4 111.7,353.3 116.3,349.3 119.7,348.1 124.3,345.1 127.2,343.6 132.0,343.3 136.8,344.4 141.0,343.5 145.6,342.5 150.4,346.0 155.3,353.2 160.0,357.3 164.8,362.9 169.6,366.9 173.6,371.7 177.6,375.7 184.0,378.0 189.1,381.2 193.5,385.0 199.3,390.1 204.4,393.9 210.7,396.5 225.4,397.3" fill="none" stroke="#00b2ee" stroke-width="2.4" stroke-linejoin="round" stroke-linecap="butt"/>
<polyline points="69.8,396.5 74.6,386.0 78.4,376.8 84.2,370.6 87.6,373.0 91.9,372.5 94.6,371.6 98.0,367.0 102.6,365.3 107.1,360.7 110.0,359.6 113.4,360.7 117.4,355.6 121.4,353.3 124.0,350.0 128.0,348.4 132.0,349.2 136.0,344.4 140.8,348.0 145.6,344.1 150.4,346.0 158.5,354.0 164.8,358.9 169.6,362.9 174.4,368.5 177.6,374.2 182.7,377.4 187.8,379.9 192.3,381.2 195.5,384.4 199.3,389.5 204.4,393.9 209.5,396.5 225.4,397.3" fill="none" stroke="#787878" stroke-width="2.4" stroke-linejoin="round" stroke-linecap="butt"/>
<polyline points="69.8,397.0 74.1,387.9 79.4,375.4 82.3,375.9 88.0,377.8 92.8,381.6 94.0,381.9 98.0,380.1 103.1,382.4 107.1,377.5 119.7,375.0 124.3,372.1 130.0,367.6 136.0,361.3 152.0,345.2 159.6,333.7 165.4,337.2 169.3,340.2 173.2,341.5 177.1,348.9 181.0,358.6 183.9,362.5 187.8,367.8 192.9,372.9 196.7,374.8 200.5,380.5 204.4,386.9 208.2,392.0 212.0,395.2 217.1,396.5 225.4,397.3" fill="none" stroke="#ff5a14" stroke-width="2.4" stroke-linejoin="round" stroke-linecap="butt"/>
<polyline points="70.0,393.2 73.6,383.0 75.1,377.8 79.4,370.6 83.2,364.8 86.6,360.0 90.0,353.3 98.9,343.9 103.5,345.5 107.7,348.5 110.6,352.1 114.0,359.6 117.4,365.9 120.3,375.0 123.7,384.1 127.2,388.5 131.2,390.9 137.6,389.6 144.0,387.7 150.8,383.9 154.7,374.2 157.6,358.6 160.6,343.1 164.5,327.5 169.3,318.2 173.8,318.2 177.1,331.4 181.0,348.9 185.0,364.5 187.8,371.6 191.6,381.8 195.5,388.2 199.3,393.3 204.4,395.8 210.7,397.1 225.4,397.4" fill="none" stroke="#4cb030" stroke-width="2.4" stroke-linejoin="round" stroke-linecap="butt"/>
<line x1="331.2" y1="354.6" x2="504.2" y2="354.6" stroke="#bcbcbc" stroke-width="1" stroke-dasharray="1.2,1.5"/>
<line x1="331.2" y1="309.8" x2="504.2" y2="309.8" stroke="#bcbcbc" stroke-width="1" stroke-dasharray="1.2,1.5"/>
<line x1="331.2" y1="265.1" x2="504.2" y2="265.1" stroke="#bcbcbc" stroke-width="1" stroke-dasharray="1.2,1.5"/>
<path d="M330.2,254.0 L330.2,399.5 L504.2,399.5" fill="none" stroke="#262626" stroke-width="1.45"/>
<line x1="329.5" y1="399.5" x2="329.5" y2="397.1" stroke="#262626" stroke-width="1.2"/>
<text x="329.5" y="415.0" font-size="11" text-anchor="middle" fill="#262626" stroke="#262626" stroke-width="0.2">0</text>
<line x1="373.1" y1="399.5" x2="373.1" y2="397.1" stroke="#262626" stroke-width="1.2"/>
<text x="373.1" y="415.0" font-size="11" text-anchor="middle" fill="#262626" stroke="#262626" stroke-width="0.2">0.05</text>
<line x1="416.8" y1="399.5" x2="416.8" y2="397.1" stroke="#262626" stroke-width="1.2"/>
<text x="416.8" y="415.0" font-size="11" text-anchor="middle" fill="#262626" stroke="#262626" stroke-width="0.2">0.1</text>
<line x1="460.4" y1="399.5" x2="460.4" y2="397.1" stroke="#262626" stroke-width="1.2"/>
<text x="460.4" y="415.0" font-size="11" text-anchor="middle" fill="#262626" stroke="#262626" stroke-width="0.2">0.15</text>
<line x1="504.0" y1="399.5" x2="504.0" y2="397.1" stroke="#262626" stroke-width="1.2"/>
<text x="504.0" y="415.0" font-size="11" text-anchor="middle" fill="#262626" stroke="#262626" stroke-width="0.2">0.2</text>
<line x1="330.2" y1="399.3" x2="332.6" y2="399.3" stroke="#262626" stroke-width="1.2"/>
<text x="326.0" y="403.3" font-size="11" text-anchor="end" fill="#262626" stroke="#262626" stroke-width="0.2">0</text>
<line x1="330.2" y1="354.6" x2="332.6" y2="354.6" stroke="#262626" stroke-width="1.2"/>
<text x="326.0" y="358.6" font-size="11" text-anchor="end" fill="#262626" stroke="#262626" stroke-width="0.2">20</text>
<line x1="330.2" y1="309.8" x2="332.6" y2="309.8" stroke="#262626" stroke-width="1.2"/>
<text x="326.0" y="313.8" font-size="11" text-anchor="end" fill="#262626" stroke="#262626" stroke-width="0.2">40</text>
<line x1="330.2" y1="265.1" x2="332.6" y2="265.1" stroke="#262626" stroke-width="1.2"/>
<text x="326.0" y="269.1" font-size="11" text-anchor="end" fill="#262626" stroke="#262626" stroke-width="0.2">60</text>
<polyline points="333.9,372.7 342.6,254.8 351.3,344.7 360.0,393.5 368.8,397.7 377.5,398.5 386.2,398.9 394.9,399.1" fill="none" stroke="#0a0aff" stroke-width="2.4" stroke-linejoin="round" stroke-linecap="butt"/>
<polyline points="342.6,393.5 351.3,373.4 360.0,367.1 368.8,361.9 377.5,385.2 386.2,382.5 394.9,384.3 403.7,386.8 412.4,388.1 421.1,389.7 429.8,389.7 438.6,391.0 447.3,392.1 456.0,392.8 464.7,393.3 473.5,393.7 482.2,393.5 490.9,396.4 499.6,397.5 504.0,398.0" fill="none" stroke="#00b2ee" stroke-width="2.4" stroke-linejoin="round" stroke-linecap="butt"/>
<polyline points="333.9,399.3 342.6,389.0 351.3,369.8 360.0,359.0 368.8,362.6 377.5,370.4 386.2,375.6 394.9,380.5 403.7,384.8 412.4,388.1 421.1,391.2 429.8,393.9 438.6,396.4 447.3,397.1 456.0,397.3 464.7,397.4 473.5,397.5 482.2,397.5 490.9,397.5 499.6,397.5 504.0,397.5" fill="none" stroke="#787878" stroke-width="2.4" stroke-linejoin="round" stroke-linecap="butt"/>
<polyline points="333.9,387.2 342.6,295.3 351.3,313.4 360.0,381.2 368.8,395.9 377.5,397.3 386.2,397.7 394.9,398.2 403.7,398.4 412.4,398.6 421.1,398.9 429.8,399.0 438.6,399.1 447.3,399.1 456.0,399.1 464.7,399.1 473.5,399.1 482.2,399.1 490.9,399.1 499.6,399.1 504.0,399.1" fill="none" stroke="#ff5a14" stroke-width="2.4" stroke-linejoin="round" stroke-linecap="butt"/>
<polyline points="333.9,398.6 342.6,378.3 351.3,343.6 360.0,349.2 368.8,366.2 377.5,379.6 386.2,386.1 394.9,389.7 403.7,391.2 412.4,392.8 421.1,394.2 429.8,395.3 438.6,395.9 447.3,396.5 456.0,396.8 464.7,397.1 473.5,397.3 482.2,397.4 490.9,397.5 499.6,397.5 504.0,397.5" fill="none" stroke="#4cb030" stroke-width="2.4" stroke-linejoin="round" stroke-linecap="butt"/>
<line x1="186.3" y1="264.9" x2="207.0" y2="264.9" stroke="#00b2ee" stroke-width="1.6"/>
<text x="209.6" y="267.2" font-size="7.2" fill="#1e1e1e">Linear</text>
<line x1="186.3" y1="272.5" x2="207.0" y2="272.5" stroke="#787878" stroke-width="1.6"/>
<text x="209.6" y="274.8" font-size="7.2" fill="#1e1e1e">Bilinear</text>
<line x1="186.3" y1="280.1" x2="207.0" y2="280.1" stroke="#ff5a14" stroke-width="1.6"/>
<text x="209.6" y="282.4" font-size="7.2" fill="#1e1e1e">Polynomial</text>
<line x1="186.3" y1="287.6" x2="207.0" y2="287.6" stroke="#4cb030" stroke-width="1.6"/>
<text x="209.6" y="289.9" font-size="7.2" fill="#1e1e1e">SVM</text>
<line x1="186.3" y1="295.0" x2="207.0" y2="295.0" stroke="#2414e6" stroke-width="1.6"/>
<text x="209.6" y="297.3" font-size="7.2" fill="#1e1e1e">HSN</text>
<line x1="434.5" y1="270.1" x2="455.9" y2="270.1" stroke="#00b2ee" stroke-width="1.6"/>
<text x="457.8" y="272.4" font-size="7.2" fill="#1e1e1e">Linear</text>
<line x1="434.5" y1="277.7" x2="455.9" y2="277.7" stroke="#787878" stroke-width="1.6"/>
<text x="457.8" y="280.0" font-size="7.2" fill="#1e1e1e">Bilinear</text>
<line x1="434.5" y1="285.3" x2="455.9" y2="285.3" stroke="#ff5a14" stroke-width="1.6"/>
<text x="457.8" y="287.6" font-size="7.2" fill="#1e1e1e">Polynomial</text>
<line x1="434.5" y1="292.8" x2="455.9" y2="292.8" stroke="#4cb030" stroke-width="1.6"/>
<text x="457.8" y="295.1" font-size="7.2" fill="#1e1e1e">SVM</text>
<line x1="434.5" y1="300.3" x2="455.9" y2="300.3" stroke="#2414e6" stroke-width="1.6"/>
<text x="457.8" y="302.6" font-size="7.2" fill="#1e1e1e">HSN</text>
<text x="155.3" y="431.7" font-size="12" font-weight="bold" text-anchor="middle" fill="#111">RMSE</text>
<text x="418.5" y="431.9" font-size="12" font-weight="bold" text-anchor="middle" fill="#111">ARE</text>
<text transform="translate(33.9,328.8) rotate(-90)" font-size="12.4" font-weight="bold" text-anchor="middle" fill="#111">Normalized pixel count</text>
<text transform="translate(48.3,329.4) rotate(-90)" font-size="12.4" font-weight="bold" text-anchor="middle" fill="#111">(%)</text>
<text transform="translate(295.0,328.8) rotate(-90)" font-size="12.4" font-weight="bold" text-anchor="middle" fill="#111">Normalized pixel count</text>
<text transform="translate(309.4,329.2) rotate(-90)" font-size="12.4" font-weight="bold" text-anchor="middle" fill="#111">(%)</text>
<text x="4.3" y="333.8" font-size="13" fill="#222">(c)</text>
<text x="265.5" y="334.0" font-size="13" fill="#222">(d)</text>
</svg>
</body></html>
